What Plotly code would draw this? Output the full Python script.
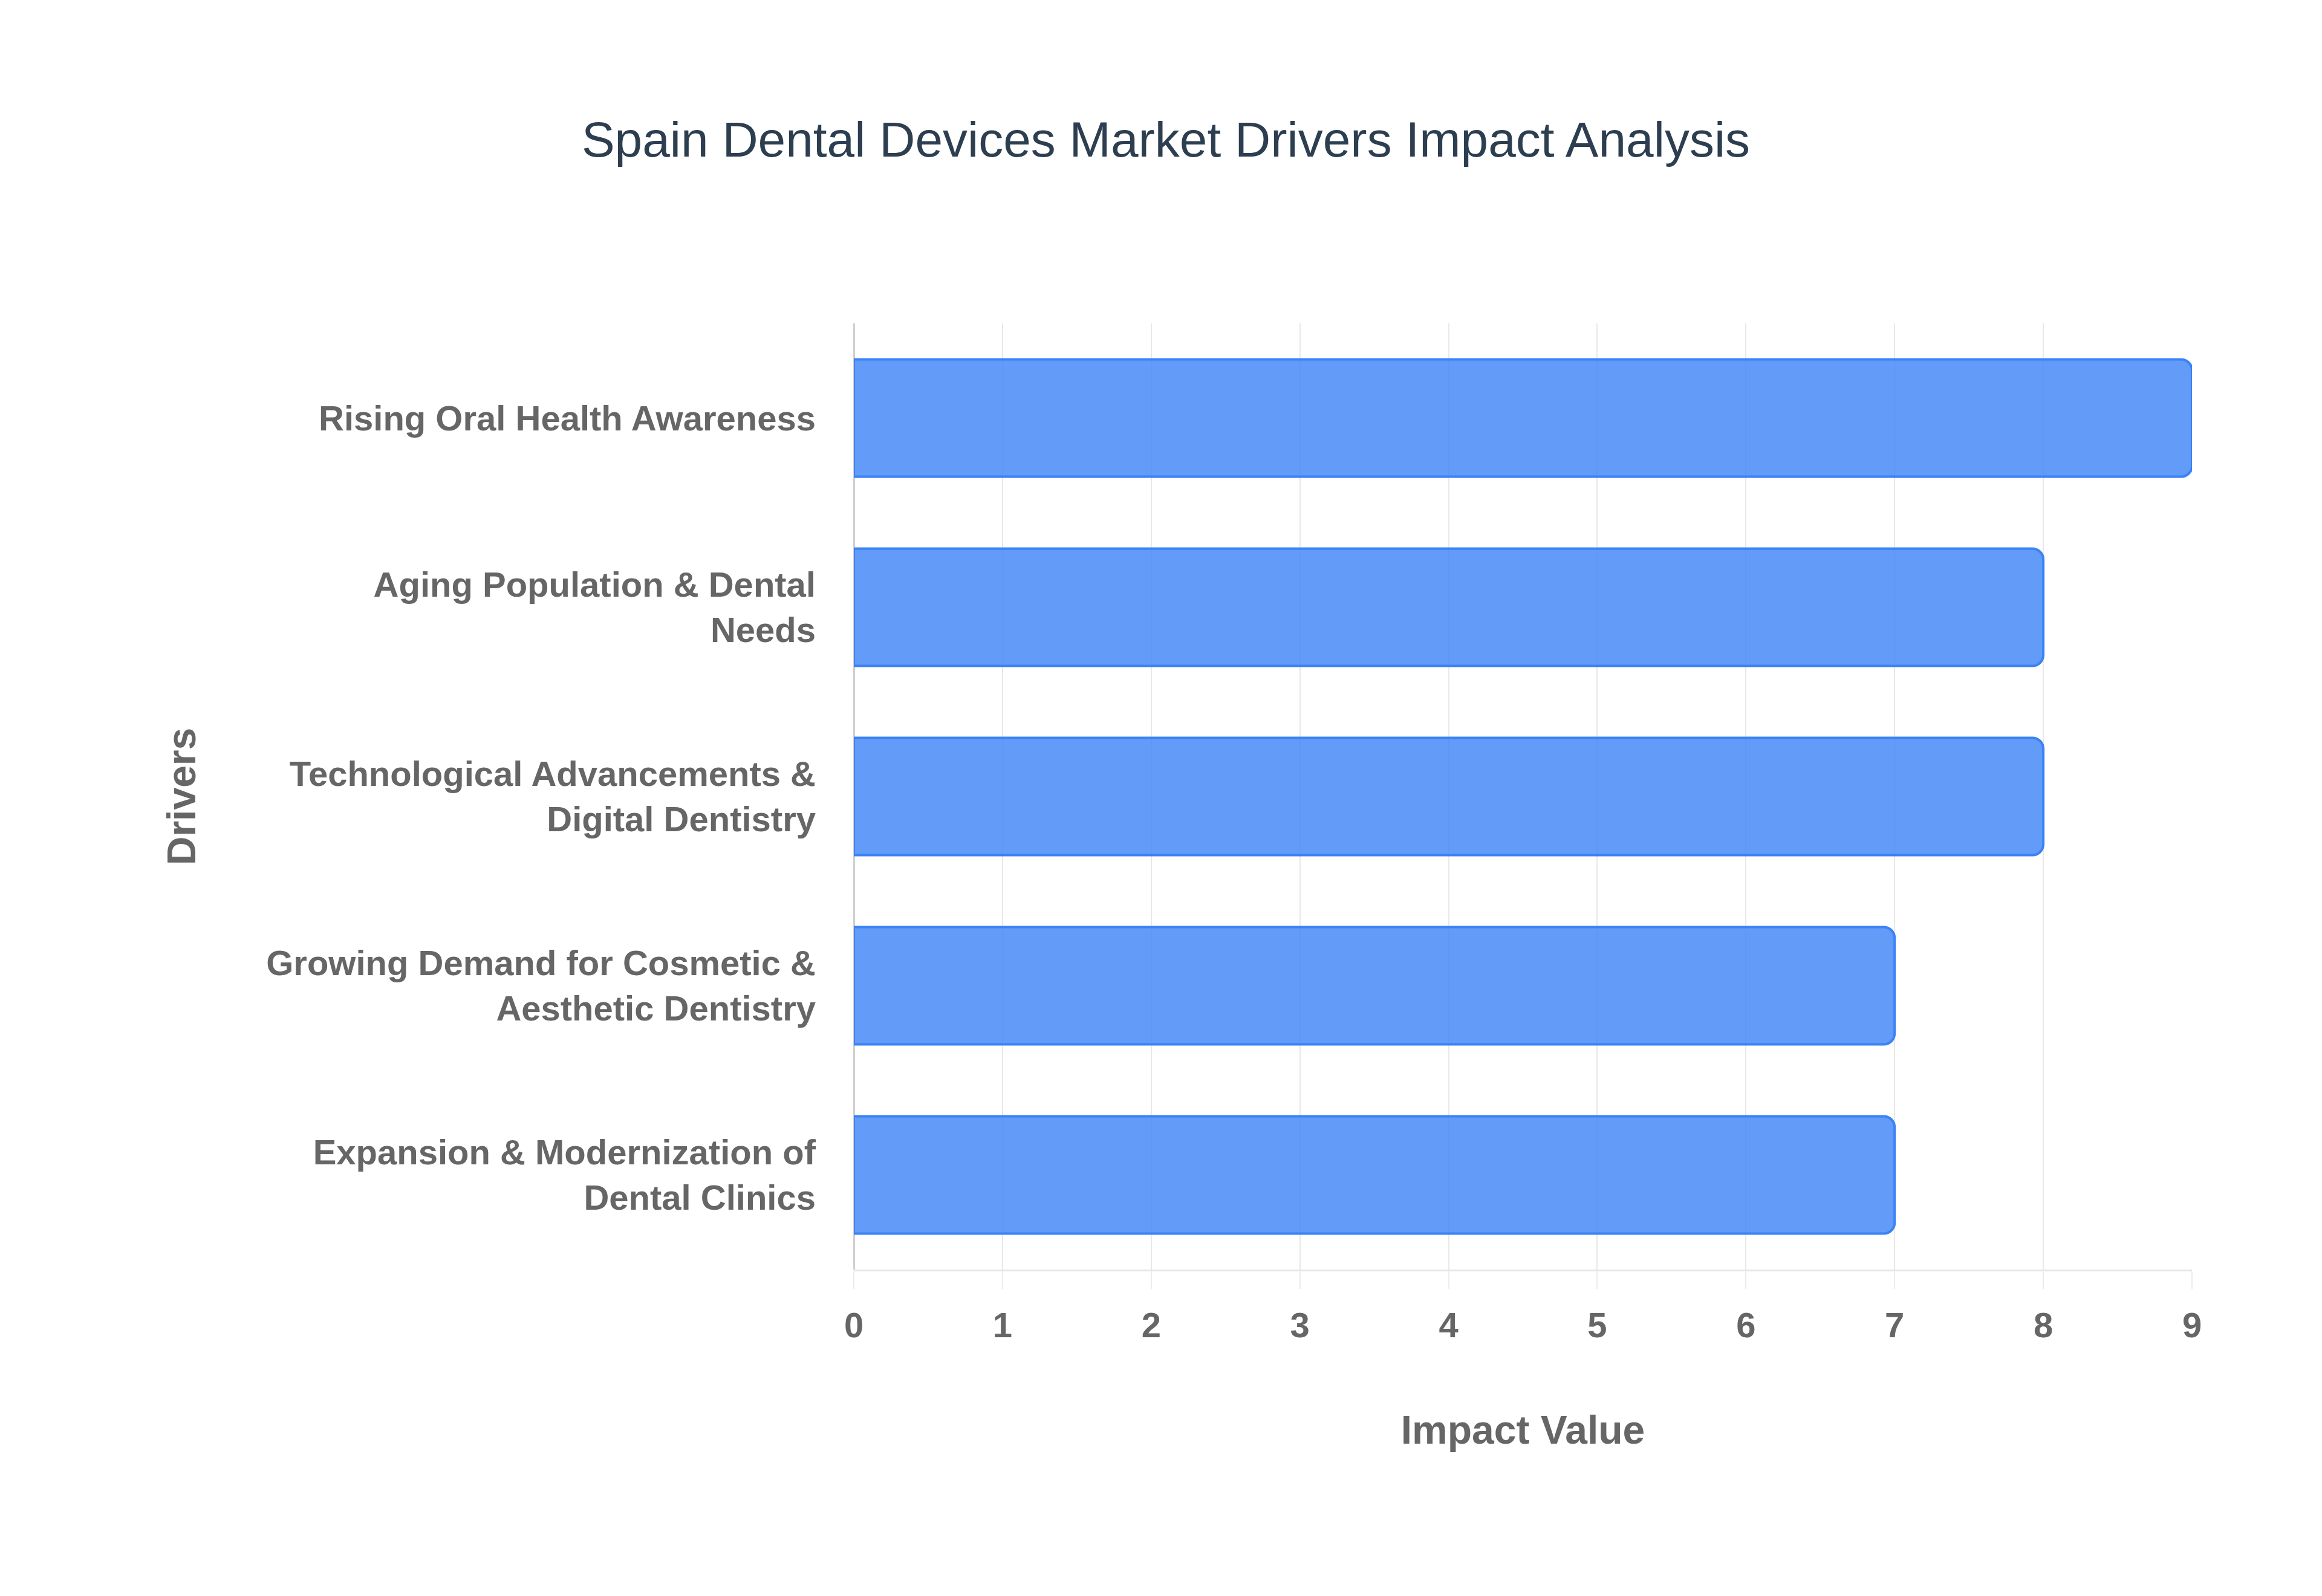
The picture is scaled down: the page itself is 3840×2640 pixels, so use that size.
import plotly.graph_objects as go

# Drivers, top to bottom as shown
drivers = [
    "Rising Oral Health Awareness",
    "Aging Population & Dental<br>Needs",
    "Technological Advancements &<br>Digital Dentistry",
    "Growing Demand for Cosmetic &<br>Aesthetic Dentistry",
    "Expansion & Modernization of<br>Dental Clinics",
]
impact_values = [9, 8, 8, 7, 7]
x_ticks = [0, 1, 2, 3, 4, 5, 6, 7, 8, 9]

FONT = "Liberation Sans, Arial, Helvetica, sans-serif"
GREY = "#666666"


def build_figure():
    fig = go.Figure()

    fig.add_trace(go.Bar(
        x=impact_values,
        y=drivers,
        orientation="h",
        width=0.62,
        marker=dict(
            color="rgba(59,130,246,0.8)",
            line=dict(color="#3b82f6", width=4),
            cornerradius=18,
        ),
        showlegend=False,
    ))

    fig.update_layout(
        width=3840,
        height=2640,
        paper_bgcolor="white",
        plot_bgcolor="white",
        margin=dict(l=1404, r=223, t=527, b=548),
        title=dict(
            text="Spain Dental Devices Market Drivers Impact Analysis",
            x=0.5, xanchor="center",
            y=1 - 222 / 2640, yanchor="middle", yref="container",
            font=dict(family=FONT, size=82, color="#2c3e50"),
        ),
    )

    fig.update_xaxes(
        range=[0, 9],
        tickvals=x_ticks,
        showgrid=True, gridcolor="#e8e8e8", gridwidth=2,
        zeroline=True, zerolinecolor="#d0d0d0", zerolinewidth=3,
        showline=True, linecolor="#e6e6e6", linewidth=3,
        ticks="outside", ticklen=29, tickwidth=2, tickcolor="#ececec",
        ticklabelstandoff=10,
        tickfont=dict(family=FONT, size=58, color=GREY, weight="bold"),
        title=dict(text="Impact Value", standoff=120,
                   font=dict(family=FONT, size=66, color=GREY, weight="bold")),
    )

    fig.update_yaxes(
        categoryorder="array", categoryarray=drivers,
        autorange="reversed",
        showgrid=False, zeroline=False, showline=False,
        ticks="",
        ticklabelstandoff=62,
        tickfont=dict(family=FONT, size=58, color=GREY, weight="bold"),
        title=dict(text="Drivers", standoff=95,
                   font=dict(family=FONT, size=66, color=GREY, weight="bold")),
    )
    return fig


if __name__ == "__main__":
    fig = build_figure()
    fig.write_html("out.html")
